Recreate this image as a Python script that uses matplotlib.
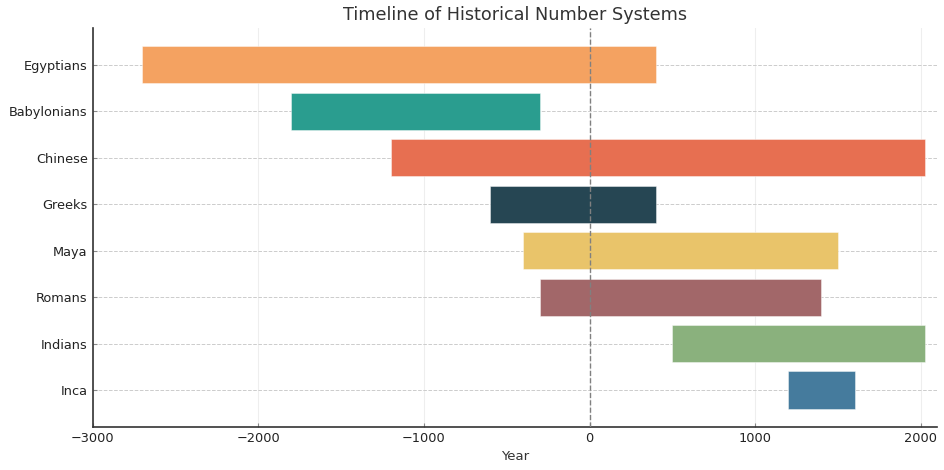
import matplotlib
matplotlib.use("Agg")
import matplotlib.pyplot as plt

civilizations = ["Egyptians", "Babylonians", "Chinese", "Greeks", "Maya", "Romans", "Indians", "Inca"]
start_years = [-2700, -1800, -1200, -600, -400, -300, 500, 1200]
end_years = [400, -300, 2023, 400, 1500, 1400, 2023, 1600]
colors = ["#F4A261", "#2A9D8F", "#E76F51", "#264653", "#E9C46A", "#A26769", "#8AB17D", "#457B9D"]

fig = plt.figure(figsize=(9.45, 4.7), dpi=100)
ax = fig.add_axes([0.098, 0.092, 0.894, 0.848])

widths = [e - s for s, e in zip(start_years, end_years)]
ax.barh(civilizations, widths, left=start_years, height=0.8, color=colors,
        edgecolor=(1, 1, 1, 0.5), linewidth=0.6, zorder=3)
ax.invert_yaxis()

ax.axvline(0, color="gray", linestyle="--", linewidth=1, zorder=4)

ax.set_xlim(-3000, 2100)
ax.set_xlabel("Year", fontsize=9.5, color="#333333")
ax.set_title("Timeline of Historical Number Systems", fontsize=12.7, color="#333333")

ax.grid(axis="y", linestyle="--", color="#cccccc", linewidth=0.7, zorder=0)
ax.grid(axis="x", linestyle="-", color="#eeeeee", linewidth=0.8, zorder=0)

for side in ["top", "right"]:
    ax.spines[side].set_visible(False)
for side in ["left", "bottom"]:
    ax.spines[side].set_color("#333333")
    ax.spines[side].set_linewidth(1.2)

ax.tick_params(axis="both", labelsize=9.3, colors="#333333", direction="in",
               length=3, pad=3.5)
ax.tick_params(axis="both", colors="#888888", labelcolor="#222222")

fig.savefig("out.png", dpi=100)
